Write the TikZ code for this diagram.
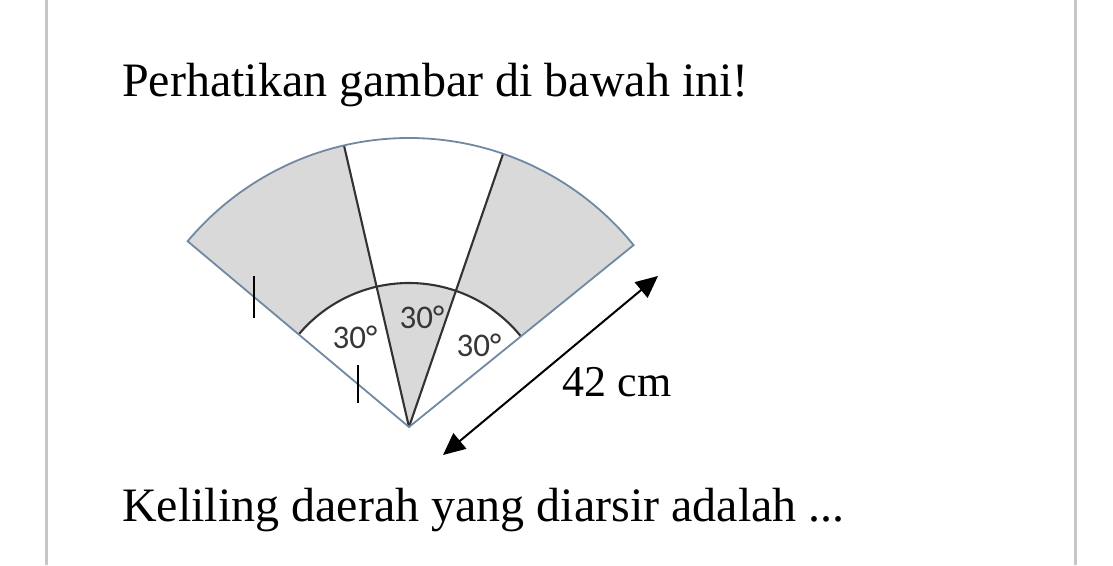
\documentclass[tikz,border=0pt]{standalone}
\usepackage{fontspec}
\setmainfont{Liberation Serif}
\newfontfamily\degfont{Carlito}
\usetikzlibrary{calc}
\usetikzlibrary{arrows.meta}
\definecolor{gray1}	{RGB}{217,217,217}
\definecolor{rim1}	{RGB}{112,136,162}
\definecolor{line1}	{RGB}{50,50,50}
\definecolor{page1}	{RGB}{198,198,198}
\definecolor{text1}	{RGB}{55,55,55}
\tikzstyle{grayfill}=	[fill=gray1]
\tikzstyle{rim}=	[draw=rim1, line width=1.8pt]
\tikzstyle{spoke}=	[draw=line1, line width=2.1pt]
\tikzstyle{eqmark}=	[draw=black, line width=2pt]
\tikzstyle{deg}=	[font=\degfont\fontsize{33}{33}\selectfont, text=text1, inner sep=0pt, anchor=base]
\tikzstyle{qtext}=	[font=\fontsize{48}{48}\selectfont, inner sep=0pt, anchor=base west]
\tikzstyle{dimarrow}=	[{Triangle[length=22pt,width=20pt]}-{Triangle[length=22pt,width=20pt]}, line width=2pt]
\tikzstyle{pageline}=	[draw=page1, line width=3pt]

\begin{document}
\begin{tikzpicture}[x=1pt, y=1pt]

	\useasboundingbox (0,0) rectangle (1113,565);

	%%% page border
	\coordinate (pl0) at (46,0);
	\coordinate (pl1) at (46,565);
	\coordinate (pr0) at (1075,0);
	\coordinate (pr1) at (1075,565);
	\draw[pageline] (pl0) -- (pl1);
	\draw[pageline] (pr0) -- (pr1);

	%%% sector
	% points
	\coordinate (O) at (409,138);
	\coordinate (a1) at ($(O)+(140:289)$);
	\coordinate (a2) at ($(O)+(103:289)$);
	\coordinate (a3) at ($(O)+(71:289)$);
	\coordinate (a4) at ($(O)+(39:289)$);
	\coordinate (b1) at ($(O)+(140:144)$);
	\coordinate (b2) at ($(O)+(103:144)$);
	\coordinate (b3) at ($(O)+(71:144)$);
	\coordinate (b4) at ($(O)+(39:144)$);

	% shaded parts
	\fill[grayfill] (b1) -- (a1) arc[start angle=140, end angle=103, radius=289pt]
		-- (b2) arc[start angle=103, end angle=140, radius=144pt] -- cycle;
	\fill[grayfill] (O) -- (b2) arc[start angle=103, end angle=71, radius=144pt] -- cycle;
	\fill[grayfill] (b3) -- (a3) arc[start angle=71, end angle=39, radius=289pt]
		-- (b4) arc[start angle=39, end angle=71, radius=144pt] -- cycle;

	% inner lines
	\draw[spoke] (O) -- (a2);
	\draw[spoke] (O) -- (a3);
	\draw[spoke] (b1) arc[start angle=140, end angle=39, radius=144pt];

	% outline
	\draw[rim] (O) -- (a1) arc[start angle=140, end angle=39, radius=289pt] -- cycle;

	% equal marks
	\coordinate (t1) at ($(O)!0.23!(a1)$);
	\coordinate (t2) at ($(O)!0.70!(a1)$);
	\draw[eqmark] ($(t1)+(0,-19)$) -- ($(t1)+(0,19)$);
	\draw[eqmark] ($(t2)+(0,-21)$) -- ($(t2)+(0,21)$);

	% angles
	\node[deg] (d1) at (355,216) {30°};
	\node[deg] (d2) at (422,236) {30°};
	\node[deg] (d3) at (479,208) {30°};

	%%% length
	\coordinate (p1) at (443,110);
	\coordinate (p2) at (658,289);
	\draw[dimarrow] (p1) -- (p2);
	\node[font=\fontsize{44}{44}\selectfont, inner sep=0pt, anchor=base] (len) at (617,168) {42 cm};

	%%% question
	\node[qtext] (q1) at (122,468) {Perhatikan gambar di bawah ini!};
	\node[qtext] (q2) at (122,44) {Keliling daerah yang diarsir adalah ...};

\end{tikzpicture}
\end{document}
